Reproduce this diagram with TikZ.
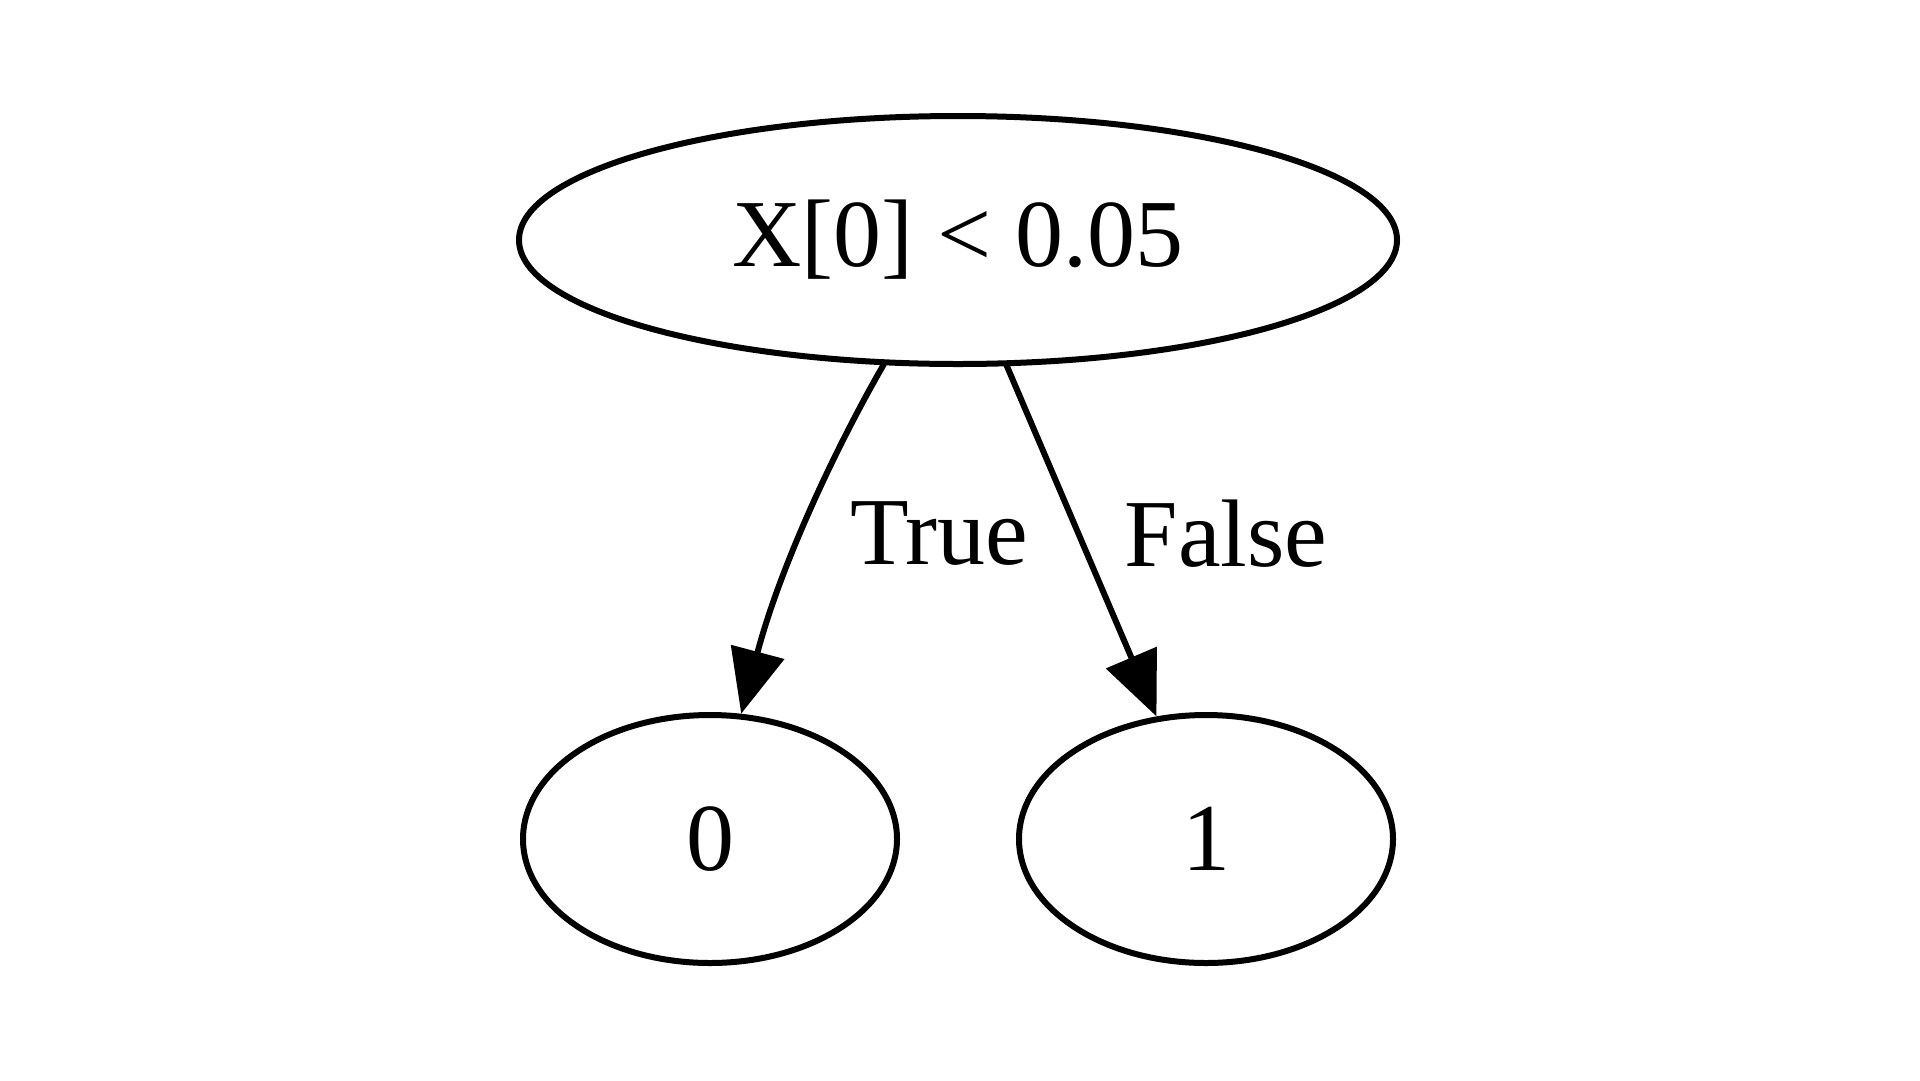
\documentclass[tikz,border=0pt]{standalone}
\usepackage{fontspec}
\setmainfont{Liberation Serif}
\usetikzlibrary{shapes.geometric,arrows.meta}
\begin{document}
\begin{tikzpicture}[x=1pt,y=-1pt,
  treenode/.style={draw,ellipse,line width=6pt,inner sep=0pt,font=\fontsize{96}{110}\selectfont},
  edgeline/.style={line width=6pt,-{Triangle[length=64pt,width=54pt]}},
  edgelabel/.style={font=\fontsize{96}{110}\selectfont,inner sep=0pt}]
\path[fill=white] (0,0) rectangle (1920,1080);
\useasboundingbox (0,0) rectangle (1920,1080);
\node[treenode,minimum width=878pt,minimum height=248pt] (root) at (958,240) {X[0] < 0.05};
\node[treenode,minimum width=374pt,minimum height=248pt] (n0) at (710,839) {0};
\node[treenode,minimum width=374pt,minimum height=248pt] (n1) at (1206,839) {1};
\coordinate (tA) at (884,364);
\coordinate (fA) at (1006,364);
\draw[edgeline] (tA) .. controls (840,440) and (782,560) .. (n0.76);
\draw[edgeline] (fA) -- (n1.112);
\node[edgelabel] (lt) at (939,534) {True};
\node[edgelabel] (lf) at (1226,534) {False};
\end{tikzpicture}
\end{document}
